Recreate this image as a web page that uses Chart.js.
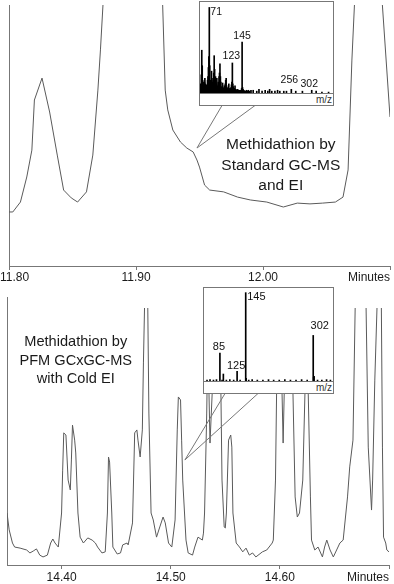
<!DOCTYPE html>
<html lang="en">
<head>
    <meta charset="UTF-8">
    <title>Methidathion: Standard GC-MS vs PFM GCxGC-MS</title>
    <script src="https://cdn.jsdelivr.net/npm/chart.js"></script>
    <style>
        body {
            margin: 0;
            background: #fff;
            font-family: "Liberation Sans", Arial, sans-serif;
        }

        #figure {
            position: relative;
            width: 394px;
            height: 584px;
            overflow: hidden;
        }

        #figure > canvas {
            position: absolute;
            left: 0;
        }

        #topChart { top: 0; }
        #bottomChart { top: 290px; }

        .inset {
            position: absolute;
            box-sizing: border-box;
            border: 1px solid #777;
            background: #fff;
            z-index: 2;
        }

        .inset canvas { display: block; }

        .inset .mz {
            border-top: 1px solid #777;
            height: 11px;
            line-height: 11px;
            font-size: 10px;
            text-align: right;
            color: #333;
            padding-right: 1px;
        }

        #topInset { left: 199px; top: 1px; width: 135px; height: 105px; }
        #bottomInset { left: 203px; top: 287px; width: 131px; height: 107px; }
    </style>
</head>
<body>
    <div id="figure">
        <canvas id="topChart" width="394" height="290"></canvas>
        <canvas id="bottomChart" width="394" height="294"></canvas>
        <div class="inset" id="topInset">
            <canvas id="topSpec" width="133" height="91"></canvas>
            <div class="mz">m/z</div>
        </div>
        <div class="inset" id="bottomInset">
            <canvas id="bottomSpec" width="129" height="93"></canvas>
            <div class="mz">m/z</div>
        </div>
    </div>

    <script>
        // chromatogram, standard GC-MS (minutes / relative signal, peaks above 100 run off the top)
        const topTimes = [11.800, 11.803, 11.809, 11.814, 11.818, 11.820, 11.826, 11.832, 11.838, 11.843,
            11.849, 11.854, 11.861, 11.866, 11.870, 11.872, 11.874, 11.897, 11.921, 11.923,
            11.925, 11.929, 11.935, 11.940, 11.945, 11.948, 11.950, 11.954, 11.958, 11.969,
            11.980, 11.990, 12.003, 12.016, 12.027, 12.037, 12.047, 12.057, 12.063, 12.067,
            12.070, 12.072, 12.083, 12.094, 12.100];
        const topSignal = [20.7, 20.7, 24.5, 34.1, 44.4, 63.6, 72.0, 59.0, 42.5, 29.1,
            26.1, 24.5, 28.4, 42.5, 67.4, 82.8, 100, 300, 100, 67.4,
            59.8, 52.1, 47.5, 45.2, 43.7, 40.6, 37.9, 31.0, 29.1, 28.4,
            26.4, 25.3, 24.5, 22.6, 24.1, 23.8, 24.1, 24.5, 26.4, 36.8,
            78.9, 100, 300, 100, 57.1];
        const topTickValues = [11.80, 11.90, 12.00, 12.10];
        const topTickLabels = ['11.80', '11.90', '12.00', 'Minutes'];
        const topNote = ['Methidathion by', 'Standard GC-MS', 'and EI'];

        // chromatogram, PFM GCxGC-MS with Cold EI
        const bottomTimes = [14.350, 14.352, 14.355, 14.357, 14.362, 14.368, 14.371, 14.374, 14.377, 14.380,
            14.383, 14.387, 14.390, 14.392, 14.394, 14.397, 14.400, 14.401, 14.402, 14.404,
            14.406, 14.408, 14.409, 14.410, 14.412, 14.413, 14.415, 14.417, 14.420, 14.424,
            14.428, 14.431, 14.433, 14.437, 14.440, 14.442, 14.443, 14.444, 14.446, 14.447,
            14.451, 14.454, 14.456, 14.460, 14.461, 14.465, 14.467, 14.469, 14.470, 14.472,
            14.474, 14.475, 14.476, 14.478, 14.479, 14.480, 14.482, 14.484, 14.487, 14.490,
            14.493, 14.495, 14.498, 14.501, 14.504, 14.506, 14.507, 14.509, 14.510, 14.511,
            14.514, 14.516, 14.520, 14.522, 14.525, 14.529, 14.530, 14.531, 14.533, 14.534,
            14.536, 14.538, 14.541, 14.543, 14.546, 14.547, 14.549, 14.550, 14.551, 14.553,
            14.555, 14.556, 14.557, 14.560, 14.563, 14.566, 14.569, 14.572, 14.575, 14.578,
            14.584, 14.588, 14.593, 14.594, 14.596, 14.597, 14.599, 14.602, 14.603, 14.604,
            14.607, 14.612, 14.614, 14.616, 14.618, 14.621, 14.623, 14.624, 14.626, 14.628,
            14.629, 14.632, 14.635, 14.639, 14.641, 14.643, 14.646, 14.649, 14.652, 14.655,
            14.658, 14.662, 14.664, 14.667, 14.669, 14.674, 14.679, 14.681, 14.684, 14.685,
            14.687, 14.689, 14.691, 14.693, 14.694, 14.695, 14.697, 14.698, 14.700];
        const bottomSignal = [19.4, 13.1, 8.2, 6.7, 6.3, 5.6, 4.5, 5.2, 6.0, 3.7,
            3.0, 3.7, 8.2, 9.7, 8.2, 6.7, 19.4, 35.4, 49.3, 48.5,
            31.7, 28.0, 39.2, 52.2, 46.6, 41.8, 19.4, 10.4, 8.2, 10.1,
            9.3, 8.2, 6.7, 4.5, 4.9, 19.4, 40.3, 38.4, 19.4, 6.7,
            4.1, 4.5, 7.5, 8.2, 7.5, 15.7, 49.3, 50.4, 46.6, 40.3,
            50.4, 75.4, 95.9, 200, 95.9, 56.7, 19.4, 16.8, 10.4, 14.2,
            17.9, 15.7, 8.2, 6.7, 16.8, 50.4, 62.7, 61.6, 46.6, 31.7,
            9.3, 4.5, 3.7, 6.7, 10.4, 9.3, 11.9, 19.4, 56.7, 85,
            45.5, 64.2, 90, 75, 64.2, 31.7, 14.2, 13.8, 19.4, 46.6,
            48.5, 44.0, 19.4, 8.2, 6.7, 4.9, 6.3, 3.7, 4.5, 3.0,
            4.9, 5.6, 8.2, 9.3, 31.7, 64.2, 110, 64.2, 45.5, 64.2,
            100, 64.2, 25.4, 17.9, 19.4, 31.7, 64.2, 90, 64.2, 25.4,
            9.3, 5.6, 6.7, 3.0, 6.7, 9.3, 5.6, 3.0, 5.6, 8.2,
            9.3, 25.4, 36.6, 46.6, 95.9, 250, 95.9, 44.0, 20.5, 31.7,
            69.0, 95.9, 110, 95.9, 44.0, 10.4, 8.2, 5.6, 4.9];
        const bottomTickValues = [14.40, 14.50, 14.60, 14.70];
        const bottomTickLabels = ['14.40', '14.50', '14.60', 'Minutes'];
        const bottomNote = ['Methidathion by', 'PFM GCxGC-MS', 'with Cold EI'];

        // where each callout points on its trace [minutes, signal]
        const topCalloutTip = [11.948, 45.2];
        const bottomCalloutTip = [14.513, 39.2];

        // mass spectra [m/z, relative abundance]
        const topSpecPeaks = [
            [50, 6], [51, 10], [52, 8], [53, 20], [54, 47], [55, 30], [56, 14], [57, 12], [58, 8], [59, 10],
            [60, 12], [61, 16], [62, 10], [63, 8], [64, 6], [65, 9], [66, 8], [67, 14], [68, 18], [69, 28],
            [70, 40], [71, 94], [72, 30], [73, 14], [74, 8], [75, 12], [76, 24], [77, 16], [78, 9], [79, 12],
            [80, 14], [81, 22], [82, 41], [83, 26], [84, 12], [85, 18], [86, 9], [87, 10], [88, 16], [89, 8],
            [90, 7], [91, 12], [92, 10], [93, 18], [94, 22], [95, 32], [96, 18], [97, 12], [98, 7], [99, 6],
            [100, 6], [101, 11], [102, 6], [103, 5], [104, 5], [105, 8], [106, 6], [107, 10], [108, 14], [109, 16],
            [110, 8], [111, 6], [112, 4], [113, 5], [114, 4], [115, 10], [116, 5], [117, 4], [118, 3], [119, 5],
            [120, 6], [121, 9], [122, 12], [123, 33], [124, 10], [125, 7], [126, 4], [127, 5], [128, 4], [129, 8],
            [130, 3], [131, 4], [132, 3], [133, 3], [134, 3], [135, 4], [136, 3], [137, 3], [138, 2], [139, 3],
            [140, 2], [141, 3], [142, 2], [143, 3], [144, 5], [145, 56], [146, 6], [147, 4], [148, 2], [149, 3],
            [150, 2], [152, 2], [154, 2], [155, 3], [157, 2], [159, 3], [162, 2], [165, 3], [170, 3], [178, 2],
            [183, 4], [190, 2], [197, 3], [203, 2], [207, 4], [212, 2], [219, 2], [225, 3], [230, 2], [239, 2],
            [245, 2], [256, 4], [266, 2], [281, 2], [302, 3], [312, 2], [325, 1], [340, 1]
        ];
        const topSpecLabelMz = [71, 145, 123, 256, 302];

        const bottomSpecPeaks = [
            [55, 1], [62, 1.5], [70, 1], [77, 1.5], [85, 30], [90, 1], [93, 7.5], [100, 1], [108, 1.5], [117, 1],
            [125, 10.5], [132, 1], [145, 95], [146, 3], [152, 1], [160, 1.5], [172, 1], [185, 1], [198, 1.5], [210, 1],
            [223, 1], [236, 1.5], [249, 1], [262, 1], [275, 1.5], [288, 1], [302, 49], [303, 4], [304, 5], [312, 1],
            [322, 1], [333, 1.5], [342, 1]
        ];
        const bottomSpecLabelMz = [145, 302, 85, 125];

        const TRACE = '#5a5a5a';
        const AXIS = '#777';
        const TEXT = '#1a1a1a';
        const FONT = '"Liberation Sans", Arial, sans-serif';

        // x tick labels: centred on the tick, kept inside the canvas, last one ends at its tick
        const tickLabelPlugin = {
            id: 'tickLabels',
            afterDraw(chart, args, opts) {
                const scale = chart.scales.x;
                const ctx = chart.ctx;
                ctx.save();
                ctx.font = opts.font;
                ctx.fillStyle = TEXT;
                ctx.textAlign = 'left';
                ctx.textBaseline = 'middle';
                opts.values.forEach((v, i) => {
                    const text = opts.labels[i];
                    const px = scale.getPixelForValue(v);
                    const w = ctx.measureText(text).width;
                    let left = i === opts.values.length - 1 ? px - w : px - w / 2;
                    left = Math.max(0, left);
                    ctx.fillText(text, left, scale.top + opts.offset);
                });
                ctx.restore();
            }
        };

        const notePlugin = {
            id: 'note',
            afterDatasetsDraw(chart, args, opts) {
                const { x, y } = chart.scales;
                const ctx = chart.ctx;
                const cx = x.getPixelForValue(opts.at[0]);
                const cy = y.getPixelForValue(opts.at[1]);
                ctx.save();
                ctx.font = opts.font;
                ctx.fillStyle = TEXT;
                ctx.textAlign = 'center';
                ctx.textBaseline = 'middle';
                opts.lines.forEach((line, i) => ctx.fillText(line, cx, cy + i * opts.gap));
                ctx.restore();
            }
        };

        // two pointer lines from the bottom edge of the inset box to a point on the trace
        const calloutPlugin = {
            id: 'callout',
            afterDatasetsDraw(chart, args, opts) {
                const { x, y } = chart.scales;
                const ctx = chart.ctx;
                const box = document.getElementById(opts.box);
                const canvasTop = chart.canvas.offsetTop;
                const baseY = box.offsetTop + box.offsetHeight - 1 - canvasTop + 0.5;
                const tx = x.getPixelForValue(opts.tip[0]);
                const ty = y.getPixelForValue(opts.tip[1]);
                ctx.save();
                ctx.strokeStyle = AXIS;
                ctx.lineWidth = 1;
                ctx.beginPath();
                opts.baseOffsets.forEach(dx => {
                    ctx.moveTo(box.offsetLeft + dx, baseY);
                    ctx.lineTo(tx, ty);
                });
                ctx.stroke();
                ctx.restore();
            }
        };

        const peakLabelPlugin = {
            id: 'peakLabels',
            afterDatasetsDraw(chart, args, opts) {
                const { x, y } = chart.scales;
                const ctx = chart.ctx;
                ctx.save();
                ctx.font = opts.font;
                ctx.fillStyle = '#111';
                ctx.textBaseline = 'middle';
                opts.mz.forEach((m, i) => {
                    const peak = opts.peaks.find(p => p[0] === m);
                    const s = opts.styles[i];
                    ctx.textAlign = s.align;
                    ctx.fillText(String(m), x.getPixelForValue(m) + s.dx, y.getPixelForValue(peak[1]) + s.dy);
                });
                ctx.restore();
            }
        };

        function drawTrace(canvasId, times, signal, cfg) {
            return new Chart(document.getElementById(canvasId), {
                type: 'line',
                data: {
                    datasets: [{
                        data: times.map((t, i) => ({ x: t, y: signal[i] })),
                        borderColor: TRACE,
                        borderWidth: 1,
                        pointRadius: 0,
                        tension: 0,
                        clip: cfg.clip
                    }]
                },
                options: {
                    responsive: false,
                    animation: false,
                    events: [],
                    layout: { padding: cfg.padding },
                    scales: {
                        x: {
                            type: 'linear',
                            min: cfg.tickValues[0] - cfg.leftMargin,
                            max: cfg.tickValues[cfg.tickValues.length - 1],
                            afterBuildTicks: scale => {
                                scale.ticks = cfg.tickValues.map(v => ({ value: v }));
                            },
                            ticks: { display: false },
                            grid: { drawOnChartArea: false, tickLength: 4, color: AXIS },
                            border: { color: AXIS }
                        },
                        y: {
                            min: 0,
                            max: 100,
                            ticks: { display: false },
                            grid: { display: false, drawTicks: false },
                            border: { color: AXIS }
                        }
                    },
                    plugins: {
                        legend: { display: false },
                        tooltip: { enabled: false },
                        tickLabels: { values: cfg.tickValues, labels: cfg.tickLabels, font: '12px ' + FONT, offset: cfg.labelOffset },
                        note: { lines: cfg.note, at: cfg.noteAt, gap: cfg.noteGap, font: cfg.noteFont },
                        callout: { box: cfg.box, tip: cfg.tip, baseOffsets: cfg.baseOffsets }
                    }
                },
                plugins: [tickLabelPlugin, notePlugin, calloutPlugin]
            });
        }

        function drawSpectrum(canvasId, peaks, labelMz, cfg) {
            return new Chart(document.getElementById(canvasId), {
                type: 'bar',
                data: {
                    datasets: [{
                        data: peaks.map(p => ({ x: p[0], y: p[1] })),
                        backgroundColor: '#000',
                        borderWidth: 0,
                        barThickness: 1
                    }]
                },
                options: {
                    responsive: false,
                    animation: false,
                    events: [],
                    layout: { padding: 0 },
                    scales: {
                        x: { type: 'linear', min: cfg.mzMin, max: cfg.mzMax, offset: false, display: false },
                        y: { min: 0, max: 100, display: false }
                    },
                    plugins: {
                        legend: { display: false },
                        tooltip: { enabled: false },
                        peakLabels: { mz: labelMz, peaks: peaks, styles: cfg.labelStyles, font: cfg.labelFont }
                    }
                },
                plugins: [peakLabelPlugin]
            });
        }

        drawTrace('topChart', topTimes, topSignal, {
            tickValues: topTickValues,
            tickLabels: topTickLabels,
            leftMargin: 0,
            padding: { left: 9, right: 4, top: 5, bottom: 20 },
            clip: 0,
            labelOffset: 12,
            note: topNote,
            noteAt: [12.014, 46.4],
            noteGap: 20.5,
            noteFont: '15.5px ' + FONT,
            box: 'topInset',
            tip: topCalloutTip,
            baseOffsets: [23, 56]
        });

        drawTrace('bottomChart', bottomTimes, bottomSignal, {
            tickValues: bottomTickValues,
            tickLabels: bottomTickLabels,
            leftMargin: 0.05,
            padding: { left: 7, right: 5, top: 7, bottom: 15 },
            clip: { left: 0, top: -11, right: 0, bottom: 0 },
            labelOffset: 13,
            note: bottomNote,
            noteAt: [14.413, 83.2],
            noteGap: 18.5,
            noteFont: '14.6px ' + FONT,
            box: 'bottomInset',
            tip: bottomCalloutTip,
            baseOffsets: [22, 55]
        });

        drawSpectrum('topSpec', topSpecPeaks, topSpecLabelMz, {
            mzMin: 50,
            mzMax: 350,
            labelFont: '10.5px ' + FONT,
            labelStyles: [
                { align: 'left', dx: 1, dy: 4.5 },
                { align: 'center', dx: 0, dy: -5.5 },
                { align: 'center', dx: -1, dy: -7 },
                { align: 'center', dx: -2, dy: -9.4 },
                { align: 'center', dx: -2.5, dy: -6.3 }
            ]
        });

        drawSpectrum('bottomSpec', bottomSpecPeaks, bottomSpecLabelMz, {
            mzMin: 48,
            mzMax: 348,
            labelFont: '11px ' + FONT,
            labelStyles: [
                { align: 'left', dx: 1.5, dy: 4.4 },
                { align: 'center', dx: 6.5, dy: -9.4 },
                { align: 'center', dx: -1, dy: -6 },
                { align: 'center', dx: -1, dy: -5 }
            ]
        });
    </script>
</body>
</html>
